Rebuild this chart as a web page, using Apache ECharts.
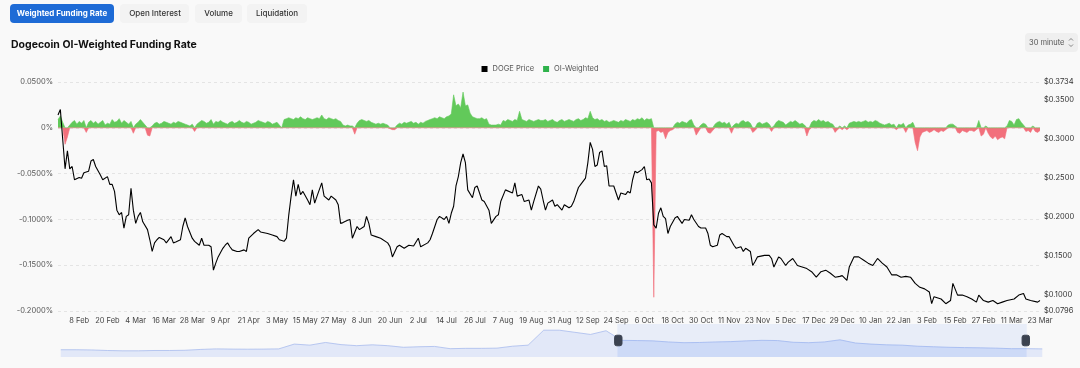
<!DOCTYPE html>
<html>
<head>
<meta charset="utf-8">
<script src="https://cdn.jsdelivr.net/npm/echarts@6/dist/echarts.min.js"></script>
<style>
html,body{margin:0;padding:0;background:#f9f9f9;}
#chart{width:1080px;height:368px;}
</style>
</head>
<body>
<div id="chart"></div>
<script>
// ---------- DATA ----------
const startDate = [2025, 0, 30];   // first day on the axis (30 Jan 2025)
const dayCount = 418;              // through 23 Mar 2026
const firstLabelDay = 9;           // 8 Feb
const labelEvery = 12;             // 8 Feb, 20 Feb, 4 Mar ...
const monthNames = ['Jan','Feb','Mar','Apr','May','Jun','Jul','Aug','Sep','Oct','Nov','Dec'];

// DOGE price: day index (since 30 Jan 2025) and price in USD
const priceDay = [0,1,2,3,4,5,6,7,9,10,11,13,14,15,16,18,19,21,22,23,24,25,26,27,28,29,30,31,32,33,34,35,36,38,39,40,41,42,43,45,46,48,49,50,52,53,54,55,57,58,60,61,62,64,65,66,67,68,70,71,72,73,74,76,77,79,80,81,83,85,86,89,91,93,94,96,97,98,99,100,101,102,103,104,106,107,108,109,110,112,113,115,116,118,119,120,121,123,124,125,127,128,130,131,132,133,135,137,140,141,142,144,145,147,148,149,151,153,154,157,158,159,161,162,164,165,166,167,168,169,170,171,172,173,174,176,177,178,180,181,183,184,186,187,188,190,193,194,195,197,198,200,201,202,204,205,206,207,208,210,211,212,214,215,217,218,219,221,222,224,225,226,227,228,229,230,231,232,233,234,236,237,238,239,241,242,243,244,245,246,248,249,250,251,252,253,254,255,256,257,258,259,260,262,263,265,266,268,269,270,272,273,275,276,277,278,280,281,282,284,285,287,288,290,291,292,294,295,296,297,300,302,303,304,306,307,309,310,312,314,316,318,320,322,324,326,328,330,332,333,335,336,338,340,342,344,346,348,350,352,354,356,358,360,362,364,366,368,370,371,372,375,377,379,380,382,384,386,388,390,391,393,395,397,399,401,403,406,408,410,411,413,416,417];
const priceValue = [0.331,0.338,0.300,0.262,0.285,0.262,0.265,0.248,0.251,0.250,0.257,0.259,0.272,0.274,0.265,0.254,0.248,0.252,0.242,0.242,0.233,0.209,0.203,0.206,0.186,0.201,0.203,0.237,0.209,0.192,0.201,0.206,0.194,0.184,0.171,0.156,0.167,0.171,0.174,0.171,0.167,0.175,0.167,0.168,0.171,0.188,0.199,0.188,0.173,0.169,0.164,0.173,0.164,0.164,0.162,0.132,0.141,0.149,0.160,0.164,0.167,0.162,0.158,0.156,0.156,0.158,0.156,0.173,0.179,0.184,0.181,0.179,0.177,0.175,0.171,0.169,0.173,0.203,0.227,0.248,0.227,0.242,0.229,0.233,0.222,0.216,0.235,0.218,0.227,0.244,0.227,0.222,0.227,0.222,0.216,0.192,0.193,0.196,0.197,0.173,0.188,0.184,0.188,0.201,0.192,0.177,0.175,0.173,0.167,0.162,0.149,0.162,0.164,0.160,0.162,0.164,0.163,0.173,0.162,0.167,0.171,0.179,0.197,0.201,0.197,0.201,0.192,0.205,0.214,0.240,0.252,0.270,0.281,0.270,0.235,0.225,0.238,0.240,0.222,0.220,0.209,0.192,0.201,0.203,0.220,0.235,0.231,0.244,0.227,0.229,0.220,0.222,0.209,0.220,0.240,0.236,0.222,0.209,0.218,0.222,0.214,0.216,0.209,0.216,0.212,0.214,0.220,0.238,0.242,0.250,0.270,0.296,0.287,0.265,0.267,0.283,0.285,0.265,0.266,0.240,0.240,0.231,0.222,0.231,0.229,0.233,0.231,0.248,0.259,0.257,0.261,0.265,0.248,0.249,0.244,0.190,0.186,0.205,0.212,0.201,0.198,0.179,0.188,0.199,0.201,0.192,0.197,0.196,0.203,0.197,0.188,0.186,0.186,0.179,0.164,0.162,0.164,0.177,0.179,0.175,0.175,0.164,0.160,0.162,0.156,0.160,0.156,0.138,0.143,0.149,0.151,0.151,0.147,0.136,0.149,0.147,0.138,0.142,0.147,0.138,0.136,0.134,0.130,0.123,0.130,0.132,0.128,0.123,0.124,0.125,0.119,0.136,0.149,0.149,0.145,0.141,0.138,0.147,0.141,0.136,0.126,0.126,0.123,0.124,0.123,0.115,0.110,0.108,0.104,0.089,0.098,0.095,0.089,0.093,0.115,0.100,0.100,0.098,0.095,0.091,0.100,0.093,0.091,0.093,0.089,0.091,0.093,0.095,0.100,0.102,0.095,0.093,0.091,0.093];

// OI-weighted funding rate (%), one value per day from 30 Jan 2025
const fundingRate = [
  0.009,0.013,0.006,-0.018,-0.010,0.003,0.006,0.008,0.004,0.007, // 0-9
  0.005,0.008,-0.005,0.006,0.008,0.005,0.007,0.004,0.006,0.008,  // 10-19
  0.003,0.005,0.004,0.009,0.006,0.007,0.010,0.005,0.008,0.006,   // 20-29
  0.004,0.007,-0.006,0.004,0.006,0.009,0.006,0.003,-0.008,-0.009,// 30-39
  0.002,0.005,0.006,0.004,0.005,0.007,0.006,0.005,0.004,0.006,   // 40-49
  0.005,0.007,0.006,0.005,0.004,0.003,0.002,0.004,-0.004,0.004,  // 50-59
  0.006,0.008,0.007,0.005,0.006,0.009,0.004,0.007,0.006,0.008,   // 60-69
  0.006,0.005,0.004,0.006,0.007,0.005,0.006,0.008,0.006,0.005,   // 70-79
  0.007,0.006,0.004,0.005,0.006,0.008,0.007,0.006,0.005,0.007,   // 80-89
  0.006,0.004,0.005,0.006,0.003,0.000,0.009,0.010,0.011,0.010,   // 90-99
  0.009,0.011,0.010,0.012,0.010,0.009,0.011,0.010,0.009,0.010,   // 100-109
  0.011,0.010,0.014,0.010,0.009,0.011,0.010,0.009,0.010,0.008,   // 110-119
  0.007,0.003,0.002,0.003,0.002,0.002,-0.007,0.005,0.008,0.009,  // 120-129
  0.008,0.007,0.008,0.006,0.005,0.004,0.005,0.004,0.005,0.004,   // 130-139
  0.003,-0.001,-0.002,-0.002,0.003,0.005,0.004,0.006,0.005,0.006,// 140-149
  0.007,0.005,0.006,0.004,0.006,0.005,0.007,0.008,0.009,0.010,   // 150-159
  0.011,0.010,0.012,0.011,0.010,0.012,0.013,0.015,0.036,0.024,   // 160-169
  0.026,0.022,0.039,0.024,0.025,0.016,0.012,0.011,0.010,0.010,   // 170-179
  0.011,0.009,0.010,0.004,0.003,0.003,0.003,0.004,0.003,0.008,   // 180-189
  0.007,0.009,0.008,0.007,0.009,0.008,0.018,0.009,0.008,0.007,   // 190-199
  0.009,0.008,0.007,0.008,0.009,0.008,0.008,0.009,0.007,0.008,   // 200-209
  0.009,0.007,0.006,0.008,0.009,0.007,0.008,0.009,0.008,0.007,   // 210-219
  0.009,0.010,0.008,0.009,0.011,0.010,0.018,0.011,0.009,0.010,   // 220-229
  0.008,0.009,0.007,0.008,0.006,0.007,0.008,0.007,0.006,0.008,   // 230-239
  0.007,0.009,0.008,0.007,0.009,0.008,0.010,0.009,0.011,0.008,   // 240-249
  0.010,0.009,0.010,-0.185,-0.004,-0.003,-0.005,-0.004,-0.012,-0.005, // 250-259
  -0.003,-0.002,0.004,0.006,0.005,0.007,0.006,0.005,0.008,0.009, // 260-269
  0.003,-0.008,-0.004,0.003,0.005,0.004,-0.005,-0.006,-0.003,0.004, // 270-279
  0.006,0.007,0.005,0.006,0.004,0.006,-0.006,0.003,0.005,0.004,  // 280-289
  0.007,0.008,0.006,0.007,0.005,-0.005,-0.003,0.005,0.006,0.004, // 290-299
  0.005,0.006,0.004,-0.004,0.002,0.006,0.008,0.007,0.006,0.003,  // 300-309
  0.005,0.007,0.006,0.008,0.006,0.004,0.005,0.003,-0.009,-0.002, // 310-319
  0.006,0.008,0.007,0.009,0.007,0.008,0.006,0.007,0.005,0.004,   // 320-329
  -0.005,-0.002,0.002,-0.002,0.002,-0.002,0.005,0.006,0.007,0.006, // 330-339
  0.007,0.006,0.007,0.008,0.006,0.007,0.006,0.008,0.007,0.005,   // 340-349
  0.004,0.003,0.004,0.005,0.003,0.004,-0.002,0.004,0.003,0.005,  // 350-359
  -0.005,0.003,0.004,0.006,-0.016,-0.025,-0.010,-0.005,-0.004,-0.003, // 360-369
  -0.005,-0.004,-0.002,-0.004,-0.005,-0.003,-0.004,-0.002,0.003,0.004, // 370-379
  0.004,0.002,-0.005,-0.006,-0.003,-0.004,-0.005,-0.003,-0.003,-0.004, // 380-389
  -0.002,0.008,-0.009,-0.007,0.002,-0.006,-0.010,-0.012,-0.009,-0.013, // 390-399
  -0.011,-0.010,-0.012,0.002,0.008,0.007,0.003,0.009,0.010,0.006, // 400-409
  0.003,-0.004,-0.003,-0.005,0.002,-0.004,-0.005,-0.003          // 410-417
];

// overview curve shown in the range slider (evenly spaced)
const overviewValues = [7.7,7.7,7.5,7.0,6.7,6.7,7.0,7.0,7.2,8.0,8.5,8.3,8.2,8.3,8.5,13,12,14.5,12.5,11.5,12.3,11.5,10,10.5,10.8,8.7,9,9,9.2,11,12,26,26,24,22,25.5,16.5,16.3,16,15,14.3,14.5,15,15.3,16,16.5,16.3,14.7,14.3,15,17,14,13,12.3,12,11,10.5,10,9.7,9.5,9.2,8.7,8.7,8.5];
const sliderStart = 56.7, sliderEnd = 98.4;

// ---------- BUILD ----------
const days = [];
for (let i = 0; i < dayCount; i++) {
  const d = new Date(Date.UTC(startDate[0], startDate[1], startDate[2] + i));
  days.push(d.getUTCDate() + ' ' + monthNames[d.getUTCMonth()]);
}
const priceData = priceDay.map((d, i) => [d, priceValue[i]]);
const fundingPos = fundingRate.map(v => Math.max(v, 0));
const fundingNeg = fundingRate.map(v => Math.min(v, 0));
const overviewCats = overviewValues.map((_, i) => i);

const FONT = 'Inter, "Noto Sans", sans-serif';
const GREEN = '#62c95a', RED = '#f2707c';

const chart = echarts.init(document.getElementById('chart'));
chart.setOption({
  backgroundColor: '#f9f9f9',
  animation: false,
  textStyle: { fontFamily: FONT },
  title: {
    text: 'Dogecoin OI-Weighted Funding Rate',
    left: 6, top: 34,
    textStyle: { fontSize: 10.5, fontWeight: 'bold', color: '#111', fontFamily: FONT }
  },
  legend: {
    top: 60, left: 'center',
    icon: 'rect', itemWidth: 6, itemHeight: 6, itemGap: 9,
    textStyle: { fontSize: 7.5, color: '#555', fontFamily: FONT },
    data: [
      { name: 'DOGE Price', itemStyle: { color: '#000' } },
      { name: 'OI-Weighted', itemStyle: { color: '#2fb24c' } }
    ]
  },
  grid: [
    { left: 58, right: 40, top: 82, bottom: 57 },
    { left: 58, right: 40, top: 82, bottom: 57, show: false }
  ],
  xAxis: [
    {
      type: 'category', gridIndex: 0, data: days, boundaryGap: false,
      axisLine: { show: false }, axisTick: { show: false },
      axisLabel: {
        interval: (idx) => idx >= firstLabelDay && (idx - firstLabelDay) % labelEvery === 0,
        fontSize: 7.5, color: '#444', margin: 6, fontFamily: FONT
      },
      splitLine: { show: false }
    },
    { type: 'category', gridIndex: 1, data: overviewCats, show: false, boundaryGap: false }
  ],
  yAxis: [
    {
      type: 'value', gridIndex: 0, min: -0.2, max: 0.05, interval: 0.05,
      axisLine: { show: false }, axisTick: { show: false },
      axisLabel: {
        fontSize: 7.5, color: '#555', margin: 5, fontFamily: FONT,
        formatter: v => Math.abs(v) < 1e-9 ? '0%' : v.toFixed(4) + '%'
      },
      splitLine: { lineStyle: { color: '#e4e4e4', type: [3, 3] } }
    },
    {
      type: 'value', gridIndex: 0, position: 'right', min: 0.0796, max: 0.3734,
      axisLine: { show: false }, axisTick: { show: false },
      axisLabel: {
        fontSize: 7.5, color: '#333', margin: 4, fontFamily: FONT,
        formatter: v => '$' + v.toFixed(4)
      },
      splitLine: { show: false }
    },
    { type: 'value', gridIndex: 1, show: false }
  ],
  dataZoom: [{
    type: 'slider', xAxisIndex: 1, start: sliderStart, end: sliderEnd,
    left: 58, right: 40, top: 324, height: 33,
    backgroundColor: 'rgba(0,0,0,0)', borderColor: 'transparent',
    fillerColor: 'rgba(175,198,245,0.22)',
    showDetail: false, brushSelect: false, moveHandleSize: 0,
    handleIcon: 'path://M2,0L5,0Q7,0 7,2L7,8Q7,10 5,10L2,10Q0,10 0,8L0,2Q0,0 2,0Z',
    handleSize: '32%',
    handleStyle: { color: '#3b4250', borderColor: '#3b4250' },
    dataBackground: {
      lineStyle: { color: '#a8bbee', width: 0.8, opacity: 1 },
      areaStyle: { color: '#e2e8f8', opacity: 1 }
    },
    selectedDataBackground: {
      lineStyle: { color: '#9ab2ee', width: 0.8, opacity: 1 },
      areaStyle: { color: '#d6e0f8', opacity: 1 }
    }
  }],
  series: [
    {
      name: 'OI-Weighted', type: 'line', xAxisIndex: 0, yAxisIndex: 0,
      data: fundingPos, showSymbol: false, symbol: 'none',
      lineStyle: { width: 0.6, color: GREEN }, itemStyle: { color: GREEN },
      areaStyle: { opacity: 1, color: GREEN, origin: 0 },
      z: 2
    },
    {
      name: 'OI-Weighted', type: 'line', xAxisIndex: 0, yAxisIndex: 0,
      data: fundingNeg, showSymbol: false, symbol: 'none',
      lineStyle: { width: 0.6, color: RED }, itemStyle: { color: RED },
      areaStyle: { opacity: 1, color: RED, origin: 0 },
      z: 2
    },
    {
      name: 'DOGE Price', type: 'line', xAxisIndex: 0, yAxisIndex: 1,
      data: priceData, showSymbol: false, symbol: 'none',
      lineStyle: { color: '#000', width: 1.1 }, itemStyle: { color: '#000' },
      z: 3
    },
    {
      name: 'overview', type: 'line', xAxisIndex: 1, yAxisIndex: 2,
      data: overviewValues, showSymbol: false, silent: true,
      lineStyle: { opacity: 0 }
    }
  ],
  graphic: [
    { type: 'rect', shape: { x: 10, y: 4, width: 104, height: 19, r: 4 }, style: { fill: '#1e6bd6' } },
    { type: 'text', x: 62, y: 13.5, style: { text: 'Weighted Funding Rate', fill: '#fff', font: 'bold 8px ' + FONT, align: 'center', verticalAlign: 'middle' } },
    { type: 'rect', shape: { x: 120, y: 4, width: 69, height: 19, r: 4 }, style: { fill: '#f3f3f3' } },
    { type: 'text', x: 155, y: 13.5, style: { text: 'Open Interest', fill: '#333', font: '500 8px ' + FONT, align: 'center', verticalAlign: 'middle' } },
    { type: 'rect', shape: { x: 195, y: 4, width: 47, height: 19, r: 4 }, style: { fill: '#f3f3f3' } },
    { type: 'text', x: 218.5, y: 13.5, style: { text: 'Volume', fill: '#333', font: '500 8px ' + FONT, align: 'center', verticalAlign: 'middle' } },
    { type: 'rect', shape: { x: 247, y: 4, width: 60, height: 19, r: 4 }, style: { fill: '#f3f3f3' } },
    { type: 'text', x: 277, y: 13.5, style: { text: 'Liquidation', fill: '#333', font: '500 8px ' + FONT, align: 'center', verticalAlign: 'middle' } },
    { type: 'rect', shape: { x: 1025, y: 33, width: 53, height: 19, r: 4 }, style: { fill: '#efefef' } },
    { type: 'text', x: 1029, y: 42.5, style: { text: '30 minute', fill: '#555', font: '7.5px ' + FONT, align: 'left', verticalAlign: 'middle' } },
    { type: 'polyline', shape: { points: [[1069, 40.5], [1071, 38.5], [1073, 40.5]] }, style: { stroke: '#777', lineWidth: 0.9, fill: null } },
    { type: 'polyline', shape: { points: [[1069, 44.5], [1071, 46.5], [1073, 44.5]] }, style: { stroke: '#777', lineWidth: 0.9, fill: null } }
  ]
});
</script>
</body>
</html>
